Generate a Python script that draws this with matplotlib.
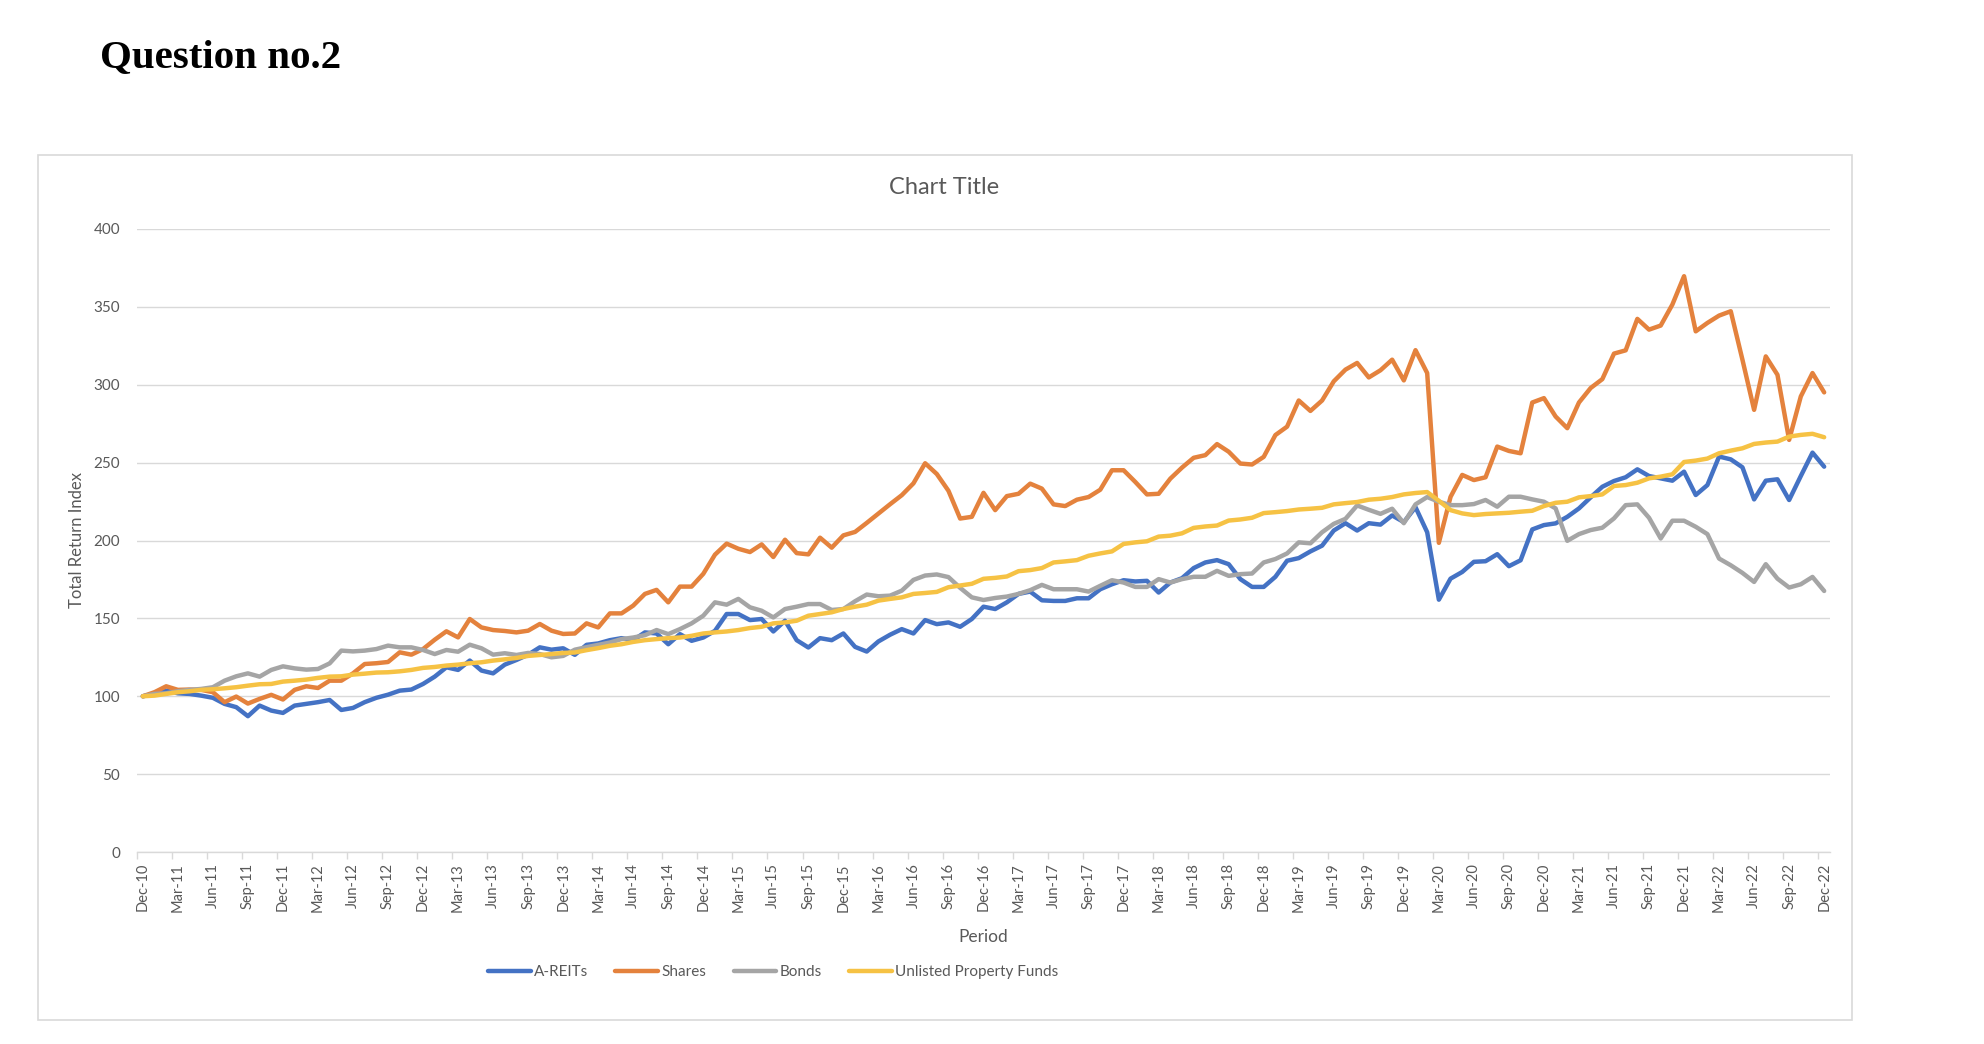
import matplotlib
matplotlib.use("Agg")
import matplotlib.pyplot as plt
from matplotlib.patches import Rectangle
import pandas as pd

# Monthly total return index, Dec-10 .. Dec-22 (145 months)
months = pd.date_range("2010-12-01", "2022-12-01", freq="MS").strftime("%b-%y").tolist()

a_reits = [
    100, 101.5, 103.6, 101.9, 101.5, 100.4, 99.0, 95.1, 93.0, 87.2,
    94.0, 90.8, 89.3, 94.0, 95.1, 96.2, 97.6, 91.2, 92.5, 96.2,
    99.0, 101.0, 103.6, 104.3, 107.9, 112.6, 118.6, 116.9, 122.9, 116.5,
    114.7, 120.3, 123.3, 126.7, 131.4, 129.9, 130.8,
    126.6, 133.0, 133.9, 136.0, 137.3, 136.0, 141.0, 140.3, 133.4, 139.9,
    135.6, 137.7, 142.0, 152.8, 152.8, 148.9, 149.6, 141.6, 148.5, 136.0,
    131.3, 137.3, 136.0, 140.3, 131.7, 128.7, 135.2, 139.5, 143.1, 140.3,
    148.9, 146.3, 147.4, 144.6, 149.6, 157.5, 156.0, 160.3, 165.7,
    167.2, 161.6, 161.2, 161.2, 162.9, 162.9, 168.7, 171.9, 174.5, 173.7,
    174.1, 166.6, 173.0, 175.8, 182.3, 185.9, 187.4, 184.8, 175.2, 170.2,
    170.2, 176.7, 187.0, 188.7, 193.0, 196.7, 206.4, 211.1, 206.4, 211.1,
    210.2, 216.1, 211.8, 221.4, 205.3,
    162.0, 175.5, 179.8, 186.3, 186.7, 191.2, 183.5, 187.3, 207.1, 209.9,
    211.0, 215.2, 220.6, 227.7, 234.5, 238.2, 240.6, 245.7, 241.4, 239.9,
    238.4, 244.2, 229.2, 235.6, 253.9, 252.1, 247.0, 226.4, 238.4, 239.3,
    226.0, 241.4, 256.4, 247.4,
]

shares = [
    100, 102.6, 106.4, 104.1, 104.3, 104.1, 102.6, 96.2, 99.8, 95.3,
    98.3, 100.9, 97.9, 104.1, 106.4, 105.3, 110.0, 110.0, 114.7, 120.7,
    121.2, 122.0, 128.2, 126.7, 130.3, 136.3, 141.7, 137.8, 149.6, 144.2,
    142.5, 141.9, 141.0, 142.1, 146.4, 142.1, 140.0,
    140.3, 146.8, 144.2, 153.2, 153.2, 158.2, 165.7, 168.3, 160.3, 170.4,
    170.4, 178.6, 190.9, 198.0, 194.7, 192.6, 197.5, 189.4, 200.5, 191.9,
    191.1, 201.8, 195.4, 203.3, 205.5, 211.3, 217.3, 223.3, 229.1, 236.7,
    249.6, 242.7, 231.9, 214.1, 215.2, 230.6, 219.5, 228.5, 230.0,
    236.5, 233.3, 223.2, 222.1, 226.2, 227.9, 232.6, 245.1, 245.1, 237.6,
    229.6, 230.0, 239.7, 246.8, 253.1, 254.8, 261.9, 257.0, 249.4, 248.8,
    253.7, 267.7, 273.1, 289.9, 283.2, 289.9, 302.2, 309.7, 314.0, 304.7,
    309.3, 316.1, 302.8, 322.2, 307.5,
    198.5, 228.0, 242.1, 238.8, 240.6, 260.3, 257.5, 256.0, 288.6, 291.4,
    279.6, 272.1, 288.6, 297.9, 303.6, 320.0, 322.1, 342.3, 335.4, 338.0,
    351.5, 369.7, 334.3, 339.7, 344.4, 347.2, 316.1, 283.9, 318.2, 306.4,
    264.6, 292.5, 307.5, 295.1,
]

bonds = [
    100, 101.5, 101.9, 103.2, 104.1, 104.7, 105.8, 110.0, 112.8, 114.7,
    112.6, 116.9, 119.2, 117.9, 117.1, 117.5, 121.1, 129.3, 128.8, 129.3,
    130.3, 132.5, 131.4, 131.4, 129.7, 127.1, 129.7, 128.6, 133.1, 130.8,
    126.7, 127.6, 126.5, 127.8, 127.1, 125.0, 125.9, 129.9, 131.5, 133.0,
    134.5, 136.7, 137.7, 139.2, 142.5, 139.9, 143.1, 146.8, 151.7, 160.3,
    158.8, 162.5, 157.1, 154.9, 150.6, 156.0, 157.5, 159.2, 159.2, 155.4,
    156.0, 161.0, 165.3, 164.2, 164.6, 167.8, 174.7, 177.5, 178.2, 176.5,
    169.6, 163.5, 161.8, 163.1, 164.0, 165.7,
    168.1, 171.5, 168.7, 168.7, 168.7, 167.2, 170.9, 174.5, 173.0, 170.2,
    170.2, 175.2, 173.0, 175.2, 176.7, 176.7, 180.5, 177.3, 178.4, 178.8,
    185.9, 188.1, 191.7, 198.8, 198.2, 205.3, 210.7, 213.9, 222.5, 219.7,
    217.1, 220.4, 211.1, 223.2, 227.9,
    224.9, 222.7, 222.7, 223.4, 226.0, 221.7, 228.1, 228.1, 226.4, 224.9,
    220.6, 199.8, 204.1, 206.7, 208.2, 214.2, 222.7, 223.2, 214.6, 201.3,
    212.7, 212.7, 208.8, 204.1, 188.4, 184.1, 179.2, 173.4, 184.8, 175.5,
    169.8, 171.9, 176.6, 167.6,
]

unlisted = [
    100, 100.4, 101.5, 102.6, 103.2, 104.1, 104.5, 105.1, 105.8, 106.8,
    107.7, 107.9, 109.4, 110.0, 110.7, 111.8, 112.6, 112.8, 113.9, 114.5,
    115.2, 115.4, 116.0, 116.9, 118.2, 118.8, 119.7, 120.3, 121.2, 121.8,
    122.9, 123.7, 124.6, 125.9, 126.5, 127.1, 127.8,
    128.1, 129.6, 130.9, 132.4, 133.4, 134.9, 136.0, 136.7, 137.3, 137.7,
    138.8, 140.3, 141.0, 141.6, 142.5, 143.8, 144.6, 146.8, 147.4, 148.5,
    151.7, 152.8, 153.9, 156.0, 157.5, 158.8, 161.4, 162.5, 163.5, 165.7,
    166.3, 167.0, 170.0, 171.1, 172.2, 175.4, 176.0, 176.9, 180.3,
    181.0, 182.3, 185.9, 186.6, 187.4, 190.2, 191.7, 193.0, 197.8, 198.8,
    199.5, 202.5, 203.1, 204.6, 208.1, 209.0, 209.6, 212.8, 213.5, 214.6,
    217.6, 218.2, 218.9, 219.9, 220.4, 221.0, 223.2, 224.0, 224.7, 226.2,
    226.8, 227.9, 229.6, 230.5, 231.1,
    225.5, 219.5, 217.4, 216.3, 217.0, 217.4, 217.8, 218.5, 219.1, 222.1,
    224.2, 224.9, 227.7, 228.5, 229.6, 235.0, 235.6, 237.1, 239.9, 241.0,
    242.5, 250.4, 251.3, 252.6, 256.0, 257.7, 259.2, 262.0, 262.9, 263.5,
    266.7, 267.8, 268.5, 266.3,
]

series_names = ["A-REITs", "Shares", "Bonds", "Unlisted Property Funds"]
series_colors = ["#4472C4", "#E4823D", "#A5A5A5", "#F6C244"]

W, H = 1984, 1044
fig = plt.figure(figsize=(W / 100, H / 100), dpi=100)
plt.rcParams["font.family"] = ["Lato", "DejaVu Sans"]

# chart frame
fig.patches.append(Rectangle((38 / W, 1 - 1020 / H), (1852 - 38) / W, (1020 - 155) / H,
                             transform=fig.transFigure, fill=False,
                             edgecolor="#D9D9D9", lw=1.2))

fig.text(100 / W, 1 - 67 / H, "Question no.2", family="Liberation Serif",
         fontweight="bold", fontsize=29.5, va="baseline", ha="left")
fig.text(944 / W, 1 - 187 / H, "Chart Title", ha="center", va="center",
         fontsize=17, color="#595959")

ax = fig.add_axes([137 / W, 1 - 852 / H, (1830 - 137) / W, (852 - 229) / H])
x = list(range(len(months)))
for vals, name, col in zip([a_reits, shares, bonds, unlisted], series_names, series_colors):
    ax.plot(x, vals, color=col, lw=3.2, label=name,
            solid_joinstyle="round", solid_capstyle="round")

ax.set_xlim(-0.5, len(months) - 0.5)
ax.set_ylim(0, 400)
ax.set_yticks(range(0, 401, 50))
ax.yaxis.grid(True, color="#D9D9D9", lw=1.0)
ax.set_axisbelow(True)
for s in ["top", "right", "left"]:
    ax.spines[s].set_visible(False)
ax.spines["bottom"].set_color("#D9D9D9")
ax.spines["bottom"].set_linewidth(1.0)

ax.set_xticks(x[::3])
ax.set_xticklabels(months[::3], rotation=90, fontsize=10.5, color="#595959")
ax.set_xticks([i - 0.5 for i in x[::3]], minor=True)
ax.tick_params(axis="x", which="major", length=0, pad=8)
ax.tick_params(axis="x", which="minor", length=5, width=1.0, color="#D9D9D9")
ax.tick_params(axis="y", length=0, pad=12, labelsize=11, labelcolor="#595959")

fig.text(983 / W, 1 - 937 / H, "Period", ha="center", va="center",
         fontsize=12.5, color="#595959")
fig.text(77 / W, 1 - 540 / H, "Total Return Index", ha="center", va="center",
         rotation=90, fontsize=12, color="#595959")

leg = fig.legend(loc="center", bbox_to_anchor=(773 / W, 1 - 972 / H), ncol=4,
                 frameon=False, fontsize=11, handlelength=2.8, handletextpad=0.2,
                 columnspacing=1.8, labelcolor="#595959")

fig.savefig("out.png", dpi=100)
